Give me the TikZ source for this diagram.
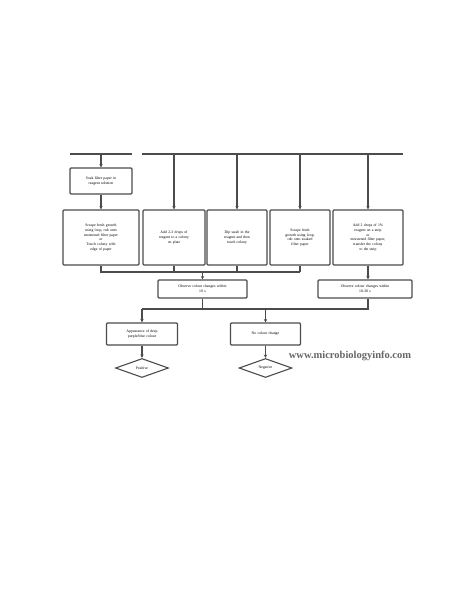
\documentclass[tikz,border=0pt]{standalone}
\usepackage{fontspec}
\setmainfont{Liberation Serif}
\usetikzlibrary{arrows.meta,shapes.geometric}
\begin{document}
\begin{tikzpicture}[x=1pt,y=-1pt,
  line/.style={draw=black!70,line width=1.1pt},
  arr/.style={line,-{Stealth[length=3.5pt,width=3.5pt]}},
  box/.style={draw=black!70,line width=1.1pt,rounded corners=1pt,align=center,
    inner sep=1pt,font=\fontsize{3.8}{4.8}\selectfont,anchor=center},
  dia/.style={diamond,aspect=3.2,draw=black!70,line width=1.1pt,inner sep=0.5pt,
    font=\fontsize{3.8}{4.5}\selectfont}]
\useasboundingbox (0,0) rectangle (474,613);
\fill[white] (0,0) rectangle (474,613);
% cut-off top fragments
\coordinate (tl1) at (70,154);
\coordinate (tl2) at (132,154);
\coordinate (tr1) at (142,154);
\coordinate (tr2) at (403,154);
\draw[line] (tl1) -- (tl2);
\draw[line] (tr1) -- (tr2);
\coordinate (ta) at (101,154);
\coordinate (t2) at (174,154);
\coordinate (t3) at (237,154);
\coordinate (t4) at (300,154);
\coordinate (t5) at (368,154);
% boxes
\node[box,minimum width=62pt,minimum height=26pt,text width=58pt] (soak) at (101,181)
  {Soak filter paper in\\reagent solution};
\node[box,minimum width=76pt,minimum height=55pt,text width=72pt] (b1) at (101,237.5)
  {Scrape fresh growth\\using loop, rub onto\\moistened filter paper\\or\\Touch colony with\\edge of paper};
\node[box,minimum width=62pt,minimum height=55pt,text width=58pt] (b2) at (174,237.5)
  {Add 2-3 drops of\\reagent to a colony\\on plate};
\node[box,minimum width=60pt,minimum height=55pt,text width=56pt] (b3) at (237,237.5)
  {Dip swab in the\\reagent and then\\touch colony};
\node[box,minimum width=60pt,minimum height=55pt,text width=56pt] (b4) at (300,237.5)
  {Scrape fresh\\growth using loop,\\rub onto soaked\\filter paper};
\node[box,minimum width=70pt,minimum height=55pt,text width=66pt] (b5) at (368,237.5)
  {Add 2 drops of 1\%\\reagent on a strip\\or\\moistened filter paper,\\transfer the colony\\to the strip};
\node[box,minimum width=89pt,minimum height=18pt,text width=85pt] (o1) at (202.5,289)
  {Observe colour changes within\\10 s};
\node[box,minimum width=94pt,minimum height=18pt,text width=90pt] (o2) at (365,289)
  {Observe colour changes within\\10-30 s};
\node[box,minimum width=71pt,minimum height=22pt,text width=67pt] (pos) at (142,334)
  {Appearance of deep\\purple/blue colour};
\node[box,minimum width=70pt,minimum height=22pt,text width=66pt] (neg) at (265.5,334)
  {No colour change};
\node[dia,minimum width=53pt,minimum height=19pt] (dp) at (142,368) {Positive};
\node[dia,minimum width=53pt,minimum height=19pt] (dn) at (265.5,368) {Negative};
\node[font=\bfseries\fontsize{10.5}{12}\selectfont,text=black!60,inner sep=0pt] (wm) at (350,356)
  {www.microbiologyinfo.com};
% connectors
\draw[arr] (ta) -- (soak.north);
\draw[arr] (soak.south) -- (b1.north);
\draw[arr] (t2) -- (b2.north);
\draw[arr] (t3) -- (b3.north);
\draw[arr] (t4) -- (b4.north);
\draw[arr] (t5) -- (b5.north);
\coordinate (j1) at (101,272);
\coordinate (j2) at (174,272);
\coordinate (j3) at (237,272);
\coordinate (j4) at (300,272);
\coordinate (jm) at (202.5,272);
\draw[line] (b1.south) -- (j1) -- (j4);
\draw[line] (b2.south) -- (j2);
\draw[line] (b3.south) -- (j3);
\draw[line] (b4.south) -- (j4);
\draw[arr] (jm) -- (o1.north);
\draw[arr] (b5.south) -- (b5.south |- o2.north);
\coordinate (k1) at (202.5,309);
\coordinate (k2) at (368,309);
\coordinate (kp) at (142,309);
\coordinate (kn) at (265.5,309);
\draw[line] (o1.south) -- (k1);
\draw[line] (o2.south -| k2) -- (k2) -- (kp);
\draw[arr] (kp) -- (pos.north);
\draw[arr] (kn) -- (neg.north);
\draw[arr] (pos.south) -- (dp.north);
\draw[arr] (neg.south) -- (dn.north);
\end{tikzpicture}
\end{document}
